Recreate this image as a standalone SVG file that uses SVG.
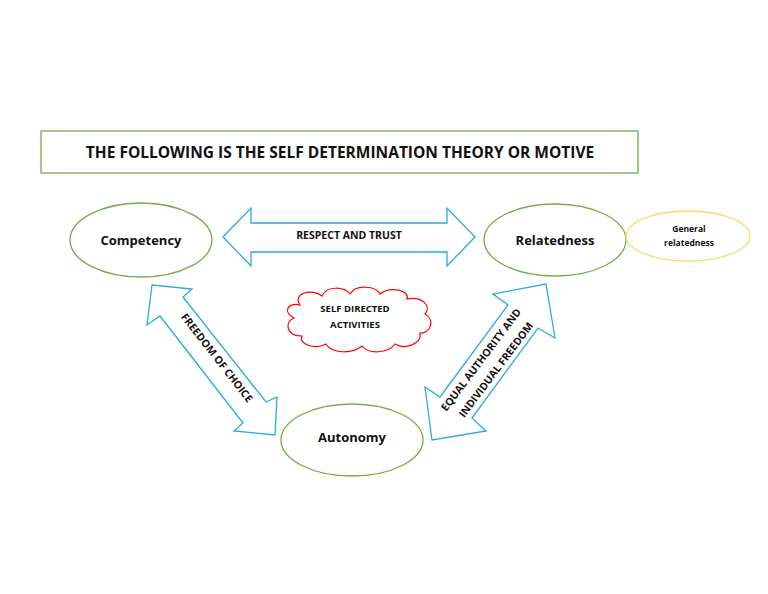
<svg xmlns="http://www.w3.org/2000/svg" width="768" height="594" viewBox="0 0 768 594">
<style>
text{font-family:"Open Sans","Liberation Sans",sans-serif;font-weight:bold;fill:#111;text-anchor:middle}
.n{fill:#fff;stroke:#70ad47;stroke-width:1.3}
.ar{fill:#fff;stroke:#29abe2;stroke-width:1.3}
</style>
<rect width="768" height="594" fill="#fff"/>
<g id="title"><rect x="41" y="131" width="597" height="42" fill="#fff" stroke="#70ad47" stroke-width="1.3"/><text x="340" y="158" font-size="15.5">THE FOLLOWING IS THE SELF DETERMINATION THEORY OR MOTIVE</text></g>
<g id="connectors">
<polygon class="ar" points="223,237 251,208 251,223 447,223 447,208 475,237 447,266 447,252 251,252 251,266"/>
<text x="349" y="239" font-size="10.5">RESPECT AND TRUST</text>
<polygon class="ar" points="152,285 192,289 183,297 266,402 277,397 275,435 234,431 243,423 160,316 147,325"/>
<text transform="translate(214,360) rotate(52)" font-size="10.5">FREEDOM OF CHOICE</text>
<polygon class="ar" points="546,284 555,338 538,328 472,418 486,431 432,440 425,387 440,397 508,305 493,294"/>
<text transform="translate(484,362) rotate(-53)" font-size="10.5">EQUAL AUTHORITY AND</text>
<text transform="translate(499,372) rotate(-53)" font-size="10.5">INDIVIDUAL FREEDOM</text>
</g>
<g id="competency"><ellipse class="n" cx="141" cy="240" rx="71" ry="37"/><text x="141" y="245" font-size="13">Competency</text></g>
<g id="relatedness"><ellipse class="n" cx="555" cy="240" rx="71" ry="36"/><text x="555" y="245" font-size="13">Relatedness</text></g>
<g id="general"><ellipse cx="688" cy="236" rx="62" ry="25" fill="#fff" stroke="#ffd966" stroke-width="1.3"/><text x="689" y="232" font-size="8.5">General</text><text x="689" y="246" font-size="8.5">relatedness</text></g>
<g id="autonomy"><ellipse class="n" cx="352" cy="440" rx="71" ry="36"/><text x="352" y="442" font-size="13">Autonomy</text></g>
<g id="cloud"><path d="M300,305 C292,293 312,288 322,296 C326,286 344,286 350,294 C356,284 376,286 380,294 C390,286 410,290 407,299 C422,296 432,306 425,314 C436,320 430,334 420,333 C422,344 405,350 395,344 C388,354 368,354 362,346 C352,354 332,354 326,344 C314,350 298,344 302,336 C286,336 284,322 294,318 C282,312 288,302 300,305 Z" fill="#fff" stroke="#ff0000" stroke-width="1.2"/><text x="355" y="312" font-size="9.5">SELF DIRECTED</text><text x="355" y="328" font-size="9.5">ACTIVITIES</text></g>
</svg>
